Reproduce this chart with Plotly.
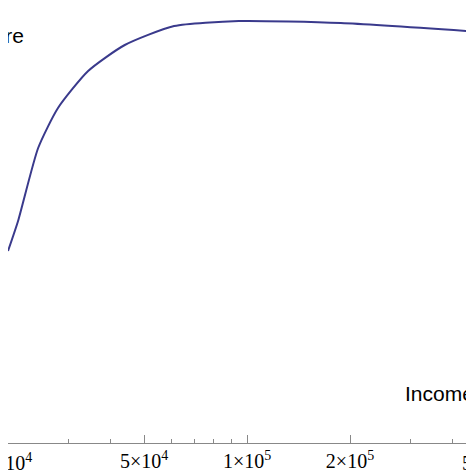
import plotly.graph_objects as go

# income (log axis) vs welfare (arbitrary units)
income = [20000, 21400, 24500, 28000, 34300, 43900, 61200, 94600, 188000, 484000]
welfare = [192, 222, 295, 335, 372, 398, 417, 422, 420, 411]

major_vals = [20000, 50000, 100000, 200000, 500000]
major_text = ["", "5×10<sup>4</sup>", "1×10<sup>5</sup>", "2×10<sup>5</sup>", ""]
minor_vals = [30000, 40000, 60000, 70000, 80000, 90000, 300000, 400000]

fig = go.Figure(go.Scatter(x=income, y=welfare, mode="lines",
                           line=dict(color="#3a3a8c", width=2, shape="spline", smoothing=0.6),
                           showlegend=False))

serif = dict(family="Liberation Serif", size=20, color="black")
sans = dict(family="Liberation Sans", size=21, color="black")

fig.update_layout(
    width=474, height=474,
    margin=dict(l=0, r=0, t=0, b=39, autoexpand=False),
    plot_bgcolor="white", paper_bgcolor="white",
    xaxis=dict(type="log", range=[4.301, 5.687], showgrid=False, zeroline=False,
               automargin=False,
               showline=True, linecolor="#888", linewidth=1,
               tickvals=major_vals, ticktext=major_text,
               ticks="inside", ticklen=8, tickcolor="#888",
               minor=dict(tickvals=minor_vals, ticks="inside", ticklen=4, tickcolor="#888"),
               tickfont=serif),
    yaxis=dict(range=[0, 435], visible=False, automargin=False),
    annotations=[
        dict(text="Welfare", x=18, y=27, xanchor="right", font=sans),
        dict(text="Income", x=395, y=385, xanchor="left", font=sans),
        dict(text="2×10<sup>4</sup>", x=0, y=454, xanchor="center", font=serif),
        dict(text="5×10<sup>5</sup>", x=478, y=454, xanchor="center", font=serif),
    ],
)
# convert pixel positions of annotations to paper coords
for a in fig.layout.annotations:
    a.xref = "paper"
    a.yref = "paper"
    a.showarrow = False
    a.yanchor = "middle"
    a.x = a.x / 474
    a.y = (435 - a.y) / 435

fig.write_html("out.html")
